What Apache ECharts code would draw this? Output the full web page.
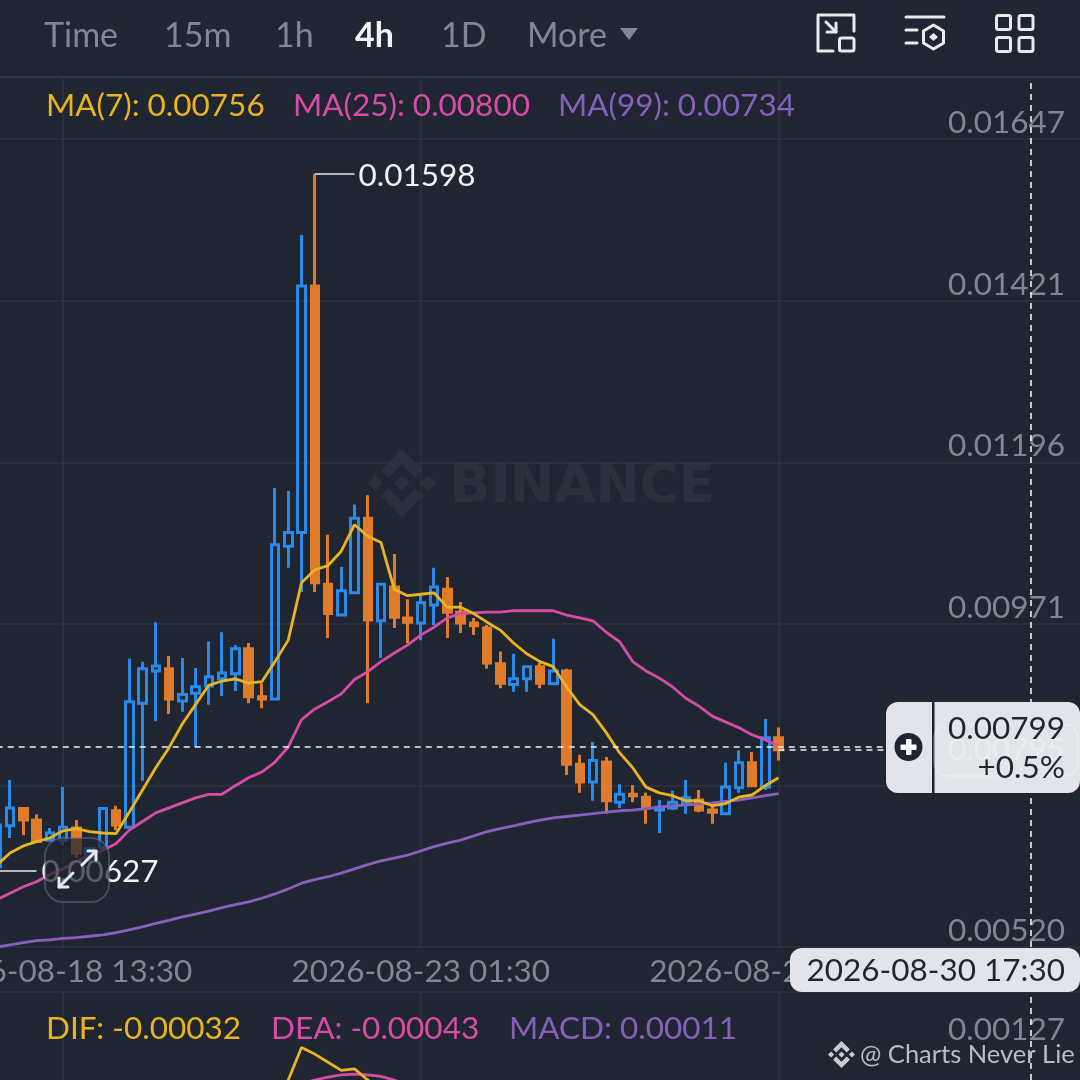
<!DOCTYPE html>
<html>
<head>
<meta charset="utf-8">
<style>html,body{margin:0;padding:0;background:#1f2631}#c{width:1080px;height:1080px}</style>
<script src="https://cdn.jsdelivr.net/npm/echarts@6/dist/echarts.min.js"></script>
</head>
<body>
<div id="c"></div>
<script>
// Prices below are in units of 0.00001
const opens  = [632,689,713,697,669,669,686,644,659,710,687,860,905,908,863,874,884,894,901,936,869,866,1079,1098,1442,1026,983,1014,1118,975,1022,979,972,997,1019,987,972,965,915,886,894,911,887,905,775,750,778,722,733,729,711,714,720,725,711,706,742,777,743,812];
const closes = [690,714,697,667,679,687,651,657,713,690,862,908,912,866,872,883,897,902,936,869,866,1081,1098,1442,1028,985,1017,1118,976,1026,980,973,1000,1022,987,972,968,916,888,894,911,888,905,775,750,780,724,733,731,714,715,722,728,711,708,743,777,745,812,795];
const lows   = [627,672,676,667,667,662,644,639,655,683,687,752,835,845,848,799,858,870,877,860,853,866,1049,1015,1015,951,983,1014,860,923,965,944,948,969,951,958,955,908,881,876,876,881,887,760,735,724,706,714,722,692,679,711,706,708,692,706,735,745,739,780];
const highs  = [704,753,713,705,686,743,697,659,713,717,922,918,973,926,923,909,946,959,941,944,888,1160,1156,1513,1598,1095,1050,1137,1150,1028,1068,1005,1011,1049,1036,1001,979,969,932,929,912,916,950,908,788,806,785,747,746,735,725,738,753,739,718,777,794,792,838,826];
const ma7Values  = [634,651,661,667,672,682,685,681,679,678,708,739,770,798,831,858,885,891,894,888,890,918,948,1028,1046,1052,1072,1109,1093,1084,1019,1010,1012,1014,994,994,985,973,962,944,929,918,911,883,858,844,819,791,770,743,735,731,724,724,717,720,729,732,745,756];
const ma25Values = [586,595,604,611,621,629,639,647,655,664,683,695,707,714,721,728,733,733,745,756,764,778,799,837,852,862,873,893,904,918,930,941,955,966,979,985,986,987,987,989,989,989,989,983,979,975,959,946,918,905,895,883,867,856,842,834,826,816,809,800];
const ma99Values = [520,523,526,529,530,532,533,535,537,540,544,548,553,557,562,566,570,575,579,583,588,594,601,609,614,618,623,629,635,640,644,648,654,660,665,669,675,681,685,689,693,697,700,702,704,706,708,710,711,713,715,717,718,720,721,723,725,728,731,734];
// MACD pane: only the part visible in the picture (index 21..31)
const difValues = {21:41,22:81,23:125,24:116,25:105,26:94,27:96,28:81,29:68};
const deaValues = {23:76,24:81,25:85,26:88,27:89,28:88,29:86,30:81,31:73};

const priceTicks = [520,745,971,1196,1421,1647];
const macdTicks  = [127];
const crossPrice = 799, lastClose = 795, crossPct = '+0.5%';
const crossTime  = '2026-08-30 17:30';
const legendMA   = ['MA(7)','MA(25)','MA(99)'];
const legendMACD = [['DIF',-32],['DEA',-43],['MACD',11]];
const periods    = ['Time','15m','1h','4h','1D','More'];

const P = v => v == null ? null : +(v/1e5).toFixed(5);
const fmt = v => (v/1e5).toFixed(5);
const N = 84;
const pad = n => String(n).padStart(2,'0');
const categories = Array.from({length:N},(_,i)=>{
  const d = new Date(Date.UTC(2026,7,17,17,30)+i*4*3600e3);
  return d.getUTCFullYear()+'-'+pad(d.getUTCMonth()+1)+'-'+pad(d.getUTCDate())+' '+pad(d.getUTCHours())+':'+pad(d.getUTCMinutes());
});
const candles = opens.map((o,i)=>[P(o),P(closes[i]),P(lows[i]),P(highs[i])]);
const full = a => categories.map((_,i)=> i<a.length ? P(a[i]) : null);
const sparse = o => categories.map((_,i)=> o[i]==null ? null : P(o[i]));
const hiIdx = highs.indexOf(Math.max(...highs));
const loIdx = lows.indexOf(Math.min(...lows));
const crossIdx = categories.indexOf(crossTime);
const tickEvery = i => (i-5)%27===0;

const FONT = 'Lato, sans-serif';
const BG = '#1f2631', GRID = '#2e3540', GREY = '#7f8793';
const GOLD='#e8b41f', PINK='#d84ba9', PURPLE='#8760bd';
const ORANGE='#df7b2b', BLUE='#2a8aea', BOX='#e2e4e9', DARK='#1f2631';
const FS = 31.5;

const txt = (t,x,y,size,fill,align,extra) => Object.assign({type:'text',x,y,z:50,silent:true,style:{text:t,fill,font:(extra&&extra.weight||'400')+' '+size+'px '+((extra&&extra.family)||FONT),textAlign:align||'left',textVerticalAlign:'middle'}},extra&&extra.el||{});
const line = (pts,stroke,w,z,closed) => ({type:closed?'polygon':'polyline',z:z||60,silent:true,shape:{points:pts},style:{stroke,fill:closed?'none':null,lineWidth:w,lineJoin:'round',lineCap:'round'}});
const rect = (x,y,w,h,r,fill,stroke,sw,z) => ({type:'rect',z:z||60,silent:true,shape:{x,y,width:w,height:h,r},style:{fill,stroke:stroke||null,lineWidth:sw||0}});

// Binance mark, drawn on a 126-unit square
const logoParts = [
 [[38.2,53.2],[62.8,28.6],[87.4,53.2],[101.7,38.9],[62.8,0],[23.9,38.9]],
 [[0,62.8],[14.3,48.5],[28.6,62.8],[14.3,77.1]],
 [[48.3,62.8],[62.8,48.3],[77.3,62.8],[62.8,77.3]],
 [[97,62.8],[111.3,48.5],[125.6,62.8],[111.3,77.1]],
 [[38.2,72.4],[62.8,97],[87.4,72.4],[101.7,86.7],[62.8,125.6],[23.9,86.7]]
];
const logo = (x,y,size,fill,z) => logoParts.map(p=>({type:'polygon',z,silent:true,shape:{points:p.map(q=>[x+q[0]*size/125.6,y+q[1]*size/125.6])},style:{fill}}));

const W='#e8eaee';
const graphics = [
  ...logo(368,449,68,'#2a313c',0),
  txt('BINANCE',450,488,53,'#2a313c','left',{weight:'700',family:'DejaVu Sans',el:{z:0}}),
  rect(0,76,1080,2.5,0,GRID,null,0,1),
  // header
  txt(periods[0],44,36,34,GREY), txt(periods[1],164,36,34,GREY), txt(periods[2],275,36,34,GREY),
  txt(periods[3],355,36,34,'#f2f3f5','left',{weight:'700'}), txt(periods[4],441,36,34,GREY), txt(periods[5],527,36,34,GREY),
  {type:'polygon',z:50,silent:true,shape:{points:[[620,28],[638,28],[629,40]]},style:{fill:GREY}},
  line([[833,51],[818,51],[818,15],[854,15],[854,31]],W,3),
  rect(839.5,38,14.5,13,2,'none',W,3),
  line([[826,22],[836,32]],W,3), line([[836,23],[836,32],[827,32]],W,3),
  line([[906,17],[944,17]],W,3), line([[906,30],[917,30]],W,3), line([[906,43],[917,43]],W,3),
  line([[933.5,25],[943.5,31],[943.5,43],[933.5,49],[923.5,43],[923.5,31]],W,3,60,true),
  {type:'polygon',z:60,silent:true,shape:{points:[[933.5,33],[938,37],[933.5,41],[929,37]]},style:{fill:W}},
  rect(996.5,15.5,14,14,2,'none',W,3), rect(1019,15.5,14,14,2,'none',W,3),
  rect(996.5,37.5,14,14,2,'none',W,3), rect(1019,37.5,14,14,2,'none',W,3),
  // legends
  txt(legendMA[0]+': '+fmt(ma7Values[ma7Values.length-1]),46,106,FS,GOLD),
  txt(legendMA[1]+': '+fmt(ma25Values[ma25Values.length-1]),293,106,FS,PINK),
  txt(legendMA[2]+': '+fmt(ma99Values[ma99Values.length-1]),558,106,FS,PURPLE),
  txt(legendMACD[0][0]+': '+(legendMACD[0][1]/1e5).toFixed(5),46,1029,FS,GOLD),
  txt(legendMACD[1][0]+': '+(legendMACD[1][1]/1e5).toFixed(5),271,1029,FS,PINK),
  txt(legendMACD[2][0]+': '+(legendMACD[2][1]/1e5).toFixed(5),509,1029,FS,PURPLE),
  // zoom button
  rect(45,838,64,64,18,'rgba(31,38,49,0.72)','rgba(125,133,145,0.4)',2,70),
  line([[82,865],[96,851]],W,3,71), line([[88,851],[96,851],[96,860]],W,3,71),
  line([[73,873],[59,887]],W,3,71), line([[59,878],[59,887],[68,887]],W,3,71),
  // crosshair price box
  rect(886,702,194,91,12,BOX,null,0,72),
  rect(932,702,2.5,91,0,DARK,null,0,73),
  {type:'circle',z:73,silent:true,shape:{cx:908.5,cy:747,r:14},style:{fill:DARK}},
  rect(906,739,5.5,16,1,'#ffffff',null,0,74), rect(900.5,744.5,16,5.5,1,'#ffffff',null,0,74),
  rect(934,724,144,52,14,'none','rgba(255,255,255,0.28)',1.5,73),
  txt(fmt(lastClose),1065,750,FS,'rgba(255,255,255,0.3)','right',{el:{z:73}}),
  txt(fmt(crossPrice),1065,729,FS,DARK,'right',{el:{z:75}}),
  txt(crossPct,1065,768,FS,DARK,'right',{el:{z:75}}),
  // crosshair time box
  rect(790,948,290,44,12,BOX,null,0,72),
  txt(crossTime,1065,971,FS,DARK,'right',{el:{z:75}}),
  // footer credit
  ...logo(828,1041,27,'#c9ccd1',76),
  txt('@ Charts Never Lie',860,1055,25.5,'#b9bdc5','left',{el:{z:76}})
];

const dashWhite = {color:'#f0f1f3',type:[6,5],width:1.6};
const option = {
  animation:false,
  backgroundColor:BG,
  graphic:{elements:graphics},
  grid:[
    {left:-3.25,top:78,width:13.25*(N-1),height:869,containLabel:false,outerBoundsMode:'none'},
    {left:-3.25,top:992,width:13.25*(N-1),height:88,containLabel:false,outerBoundsMode:'none'}
  ],
  xAxis:[
    {type:'category',gridIndex:0,data:categories,boundaryGap:false,position:'bottom',
     axisLine:{show:false},axisTick:{show:false},
     axisLabel:{interval:(i)=>tickEvery(i),hideOverlap:false,color:GREY,fontFamily:'Lato',fontSize:FS,margin:9,verticalAlign:'top'},
     splitLine:{show:true,interval:(i)=>tickEvery(i),lineStyle:{color:GRID,width:1.5}}},
    {type:'category',gridIndex:1,data:categories,boundaryGap:false,position:'top',
     axisLine:{show:true,lineStyle:{color:GRID,width:1.5}},axisTick:{show:false},axisLabel:{show:false},
     splitLine:{show:true,interval:(i)=>tickEvery(i),lineStyle:{color:GRID,width:1.5}}}
  ],
  yAxis:[
    {type:'value',gridIndex:0,position:'right',min:P(520),max:P(1732),scale:true,
     axisLine:{show:false},axisTick:{show:false,customValues:priceTicks.map(P)},
     axisLabel:{inside:true,margin:31.5,customValues:priceTicks.map(P),formatter:v=>v.toFixed(5),color:GREY,fontFamily:'Lato',fontSize:FS,verticalAlign:'bottom',align:'right'},
     splitLine:{show:true,lineStyle:{color:GRID,width:1.5}}},
    {type:'value',gridIndex:1,position:'right',min:P(81),max:P(200),scale:true,
     axisLine:{show:false},axisTick:{show:false,customValues:macdTicks.map(P)},
     axisLabel:{inside:true,margin:31.5,customValues:macdTicks.map(P),formatter:v=>v.toFixed(5),color:GREY,fontFamily:'Lato',fontSize:FS,verticalAlign:'bottom',align:'right'},
     splitLine:{show:false}}
  ],
  series:[
    {type:'candlestick',xAxisIndex:0,yAxisIndex:0,data:candles,barWidth:8,silent:true,
     itemStyle:{color:'transparent',color0:ORANGE,borderColor:BLUE,borderColor0:ORANGE,borderWidth:3},
     markLine:{silent:true,symbol:'none',animation:false,data:[
       [{xAxis:hiIdx,yAxis:P(highs[hiIdx]),lineStyle:{color:'#e9ebee',type:'solid',width:1.6}},
        {xAxis:hiIdx+3,yAxis:P(highs[hiIdx]),label:{show:true,position:'end',distance:4,offset:[0,2],formatter:fmt(highs[hiIdx]),color:'#f1f2f4',fontFamily:'Lato',fontSize:FS}}],
       [{xAxis:loIdx,yAxis:P(lows[loIdx]),lineStyle:{color:'#e9ebee',type:'solid',width:1.6}},
        {xAxis:loIdx+3,yAxis:P(lows[loIdx]),label:{show:true,position:'end',distance:5,offset:[0,2],formatter:fmt(lows[loIdx]),color:'#f1f2f4',fontFamily:'Lato',fontSize:FS}}],
       [{xAxis:0,yAxis:P(crossPrice),lineStyle:dashWhite,label:{show:false}},{xAxis:N-1,yAxis:P(crossPrice),label:{show:false}}],
       [{xAxis:opens.length-1,yAxis:P(lastClose),lineStyle:dashWhite,label:{show:false}},{xAxis:70,yAxis:P(lastClose),label:{show:false}}],
       {xAxis:crossIdx,lineStyle:dashWhite,label:{show:false}}
     ]}},
    {type:'line',name:'MA99',xAxisIndex:0,yAxisIndex:0,data:full(ma99Values),symbol:'none',silent:true,lineStyle:{color:PURPLE,width:2.8}},
    {type:'line',name:'MA25',xAxisIndex:0,yAxisIndex:0,data:full(ma25Values),symbol:'none',silent:true,lineStyle:{color:PINK,width:2.8}},
    {type:'line',name:'MA7',xAxisIndex:0,yAxisIndex:0,data:full(ma7Values),symbol:'none',silent:true,lineStyle:{color:GOLD,width:2.8}},
    {type:'line',name:'DEA',xAxisIndex:1,yAxisIndex:1,data:sparse(deaValues),symbol:'none',silent:true,lineStyle:{color:PINK,width:2.8},
     markLine:{silent:true,symbol:'none',animation:false,data:[{xAxis:crossIdx,lineStyle:dashWhite,label:{show:false}}]}},
    {type:'line',name:'DIF',xAxisIndex:1,yAxisIndex:1,data:sparse(difValues),symbol:'none',silent:true,lineStyle:{color:GOLD,width:2.8}}
  ]
};
const chart = echarts.init(document.getElementById('c'),null,{renderer:'canvas',width:1080,height:1080});
chart.setOption(option);
</script>
</body>
</html>
